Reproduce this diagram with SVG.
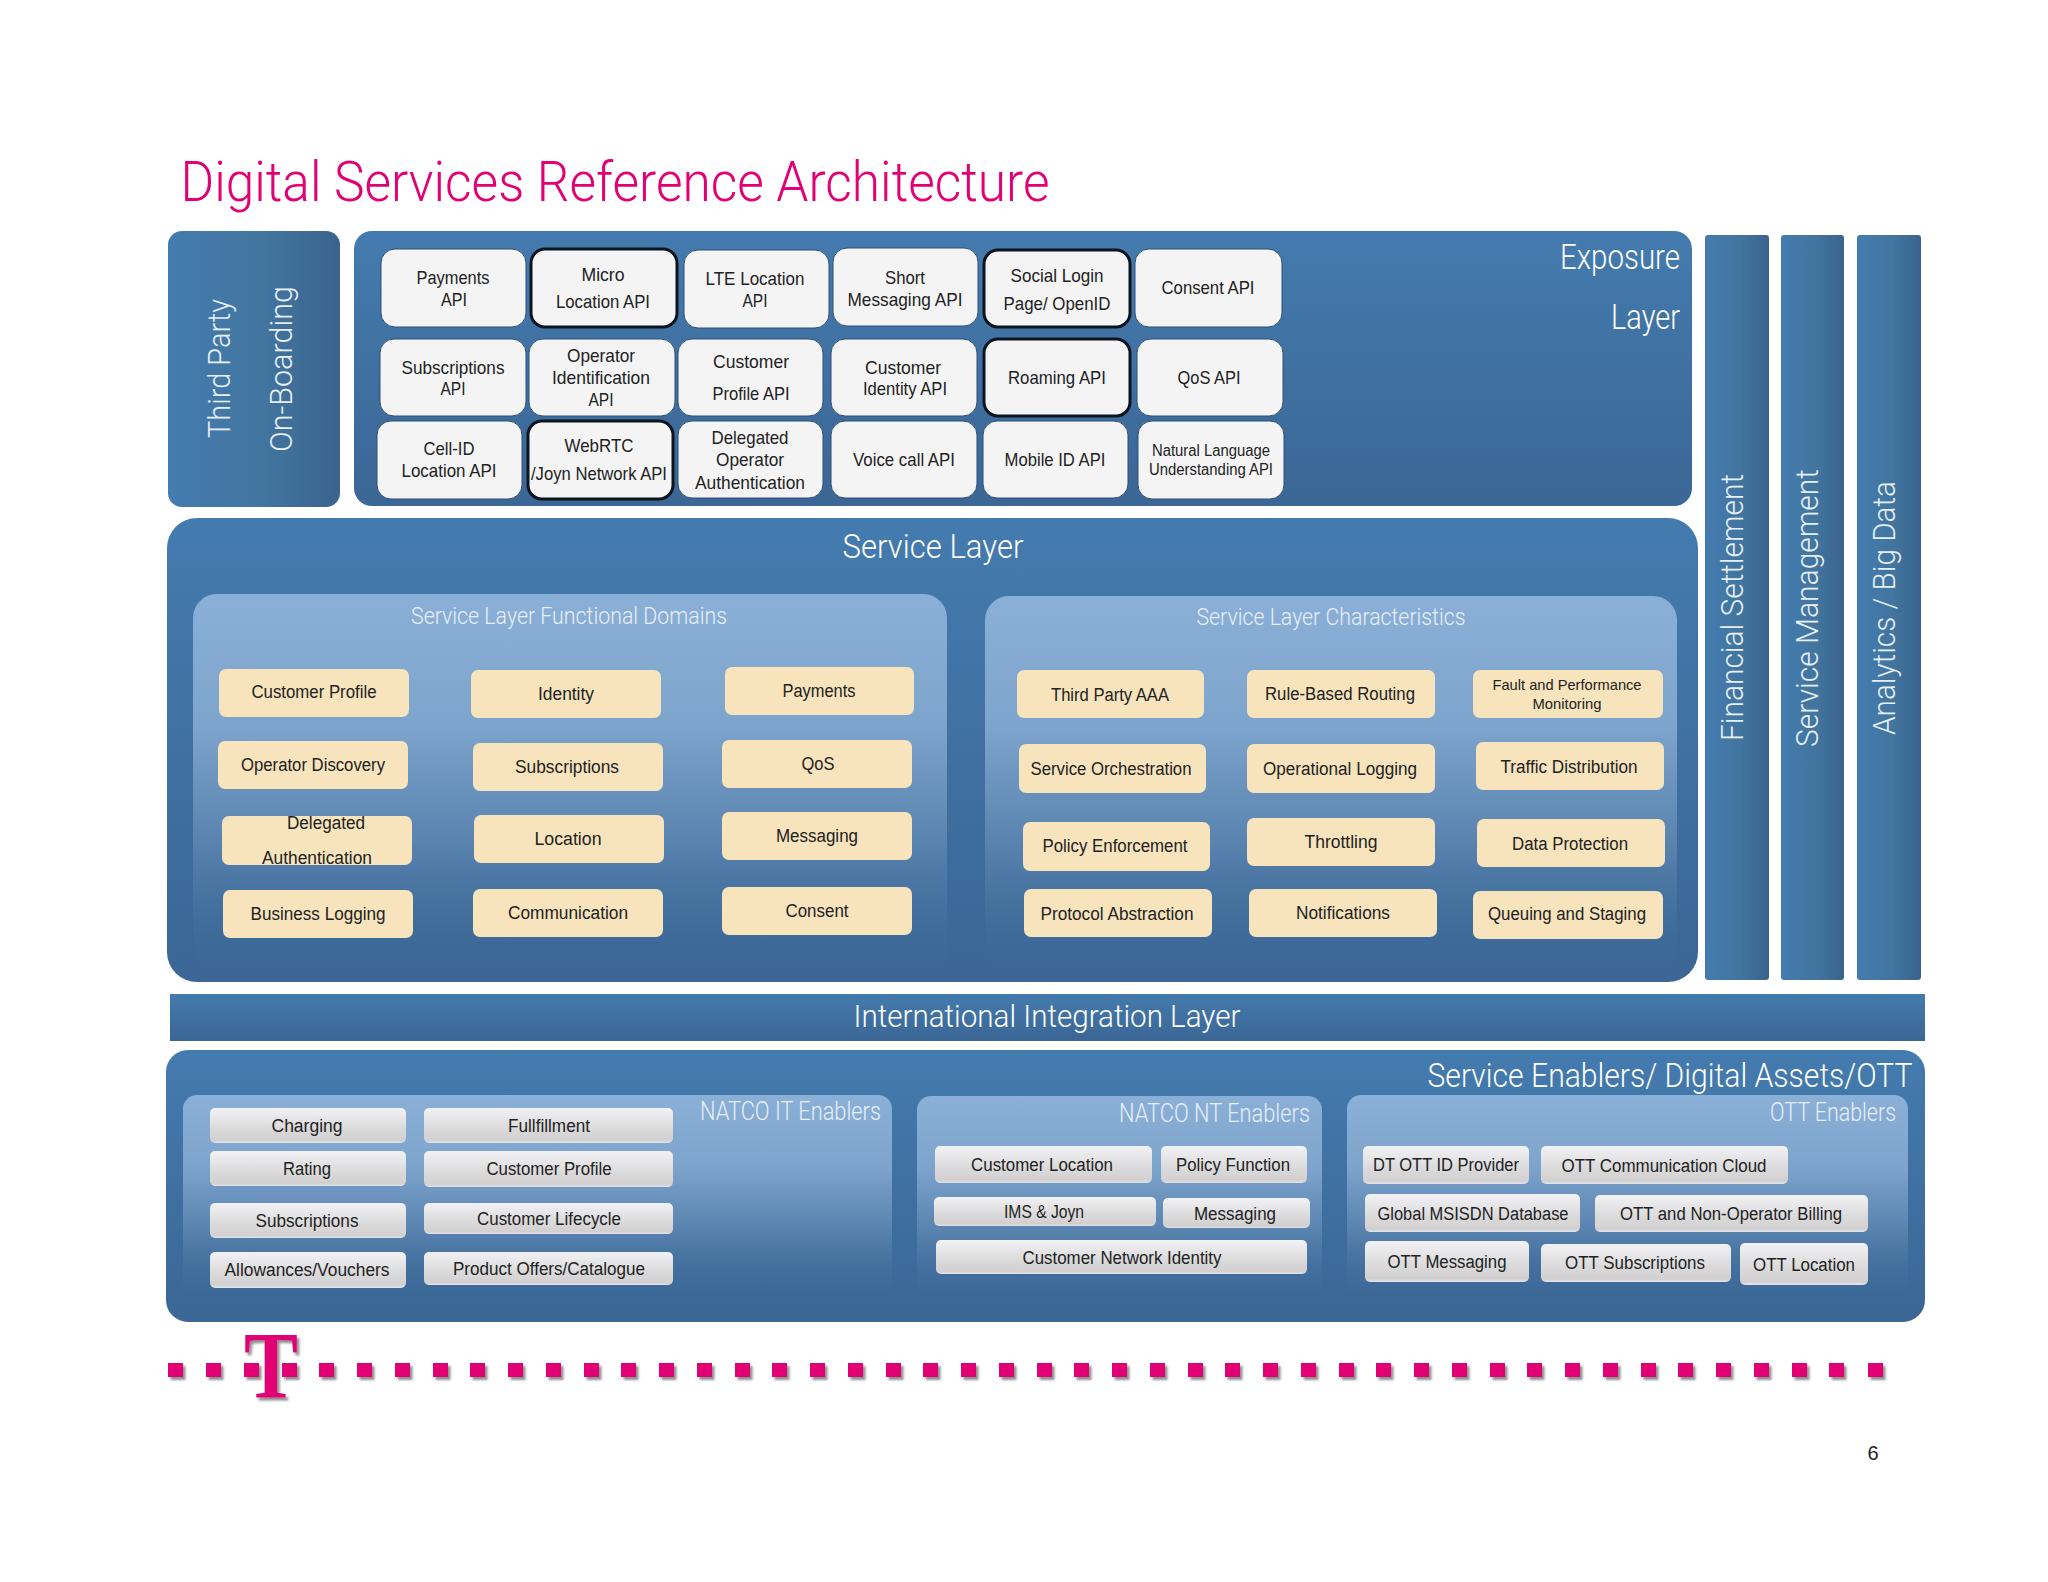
<svg xmlns="http://www.w3.org/2000/svg" width="2048" height="1582" viewBox="0 0 2048 1582">
<defs>
<linearGradient id="pv" x1="0" y1="0" x2="0" y2="1"><stop offset="0" stop-color="#447bae"/><stop offset="1" stop-color="#3b6695"/></linearGradient>
<linearGradient id="ph" x1="0" y1="0" x2="1" y2="0"><stop offset="0" stop-color="#447cb0"/><stop offset="0.55" stop-color="#42759f"/><stop offset="1" stop-color="#3a638f"/></linearGradient>
<linearGradient id="sub" x1="0" y1="0" x2="0" y2="1"><stop offset="0" stop-color="#8bb0d7"/><stop offset="0.35" stop-color="#7da4cc"/><stop offset="0.65" stop-color="#5f88b3" stop-opacity="0.85"/><stop offset="1" stop-color="#3f6b9a" stop-opacity="0"/></linearGradient>
<linearGradient id="gry" x1="0" y1="0" x2="0" y2="1"><stop offset="0" stop-color="#f2f2f5"/><stop offset="0.55" stop-color="#dcdcdd"/><stop offset="0.92" stop-color="#d2cfcf"/><stop offset="1" stop-color="#dfe4ec"/></linearGradient>
<filter id="ds" x="-30%" y="-30%" width="180%" height="180%"><feDropShadow dx="2.5" dy="3" stdDeviation="1.2" flood-color="#444" flood-opacity="0.6"/></filter>
</defs>
<style>
text{font-family:"Liberation Sans",Arial,sans-serif;text-anchor:middle;fill:#222}
.api{fill:#f4f4f5;stroke:#2f4f74;stroke-width:1}
.apib{fill:#f4f4f5;stroke:#0c1420;stroke-width:3}
.tan{fill:#f7e4bd}
.gry{fill:url(#gry)}
.a{font-size:19px}.a2{font-size:16px}.t{font-size:18px}.t2{font-size:15px}
.w,.w2,#title{font-family:Roboto,"Liberation Sans",sans-serif;font-weight:300}
.w{fill:#fff}.w2{fill:#e6eef6}
.dot{fill:#e20074;filter:url(#ds)}
</style>
<rect width="2048" height="1582" fill="#fff"/>
<text id="title" x="615" y="201" font-size="56" textLength="869" lengthAdjust="spacingAndGlyphs" style="fill:#e20074">Digital Services Reference Architecture</text>

<g id="third-party"><rect x="168" y="231" width="172" height="276" rx="14" fill="url(#ph)"/>
<text class="w2" transform="translate(230 368.5) rotate(-90)" font-size="32" textLength="139" lengthAdjust="spacingAndGlyphs">Third Party</text>
<text class="w2" transform="translate(292 369) rotate(-90)" font-size="32" textLength="166" lengthAdjust="spacingAndGlyphs">On-Boarding</text></g>

<g id="exposure-layer"><rect x="354" y="231" width="1338" height="275" rx="18" fill="url(#pv)"/>
<text class="w" x="1620" y="269" font-size="35" textLength="120" lengthAdjust="spacingAndGlyphs">Exposure</text>
<text class="w" x="1645.5" y="329" font-size="35" textLength="69" lengthAdjust="spacingAndGlyphs">Layer</text></g>

<g id="service-layer"><rect x="167" y="518" width="1531" height="464" rx="30" fill="url(#pv)"/>
<text class="w" x="933" y="558" font-size="34" textLength="181" lengthAdjust="spacingAndGlyphs">Service  Layer</text></g>

<g id="financial-settlement"><rect x="1705" y="235" width="64" height="745" rx="3" fill="url(#ph)"/><text class="w2" transform="translate(1743 607.5) rotate(-90)" font-size="32" textLength="267" lengthAdjust="spacingAndGlyphs">Financial Settlement</text></g>
<g id="service-management"><rect x="1781" y="235" width="63" height="745" rx="3" fill="url(#ph)"/><text class="w2" transform="translate(1818 608) rotate(-90)" font-size="32" textLength="278" lengthAdjust="spacingAndGlyphs">Service Management</text></g>
<g id="analytics"><rect x="1857" y="235" width="64" height="745" rx="3" fill="url(#ph)"/><text class="w2" transform="translate(1895 608) rotate(-90)" font-size="32" textLength="254" lengthAdjust="spacingAndGlyphs">Analytics / Big Data</text></g>

<g id="integration-layer"><rect x="170" y="994" width="1755" height="47" fill="url(#pv)"/><text class="w" x="1047" y="1027" font-size="32" textLength="387" lengthAdjust="spacingAndGlyphs">International Integration Layer</text></g>

<g id="enablers"><rect x="166" y="1050" width="1759" height="272" rx="22" fill="url(#pv)"/><text class="w" x="1670" y="1087" font-size="34" textLength="485" lengthAdjust="spacingAndGlyphs">Service Enablers/ Digital Assets/OTT</text></g>

<g id="api-nodes">
<g id="api-payments"><rect class="api" x="381" y="249" width="145" height="78" rx="14"/><text class="a" x="453" y="283.5" textLength="73" lengthAdjust="spacingAndGlyphs">Payments</text><text class="a" x="454" y="305.5" textLength="26" lengthAdjust="spacingAndGlyphs">API</text></g>
<g id="api-micro"><rect class="apib" x="531" y="249" width="146" height="78" rx="14"/><text class="a" x="603" y="280.5" textLength="43" lengthAdjust="spacingAndGlyphs">Micro</text><text class="a" x="603" y="308" textLength="94" lengthAdjust="spacingAndGlyphs">Location API</text></g>
<g id="api-lte"><rect class="api" x="684" y="250" width="145" height="78" rx="14"/><text class="a" x="755" y="284.5" textLength="99" lengthAdjust="spacingAndGlyphs">LTE Location</text><text class="a" x="755" y="306.5" textLength="25" lengthAdjust="spacingAndGlyphs">API</text></g>
<g id="api-short"><rect class="api" x="833" y="248" width="145" height="78" rx="14"/><text class="a" x="905" y="283.5" textLength="40" lengthAdjust="spacingAndGlyphs">Short</text><text class="a" x="905" y="305.5" textLength="115" lengthAdjust="spacingAndGlyphs">Messaging  API</text></g>
<g id="api-social"><rect class="apib" x="984" y="250" width="146" height="77" rx="14"/><text class="a" x="1057" y="282" textLength="93" lengthAdjust="spacingAndGlyphs">Social Login</text><text class="a" x="1057" y="309.5" textLength="107" lengthAdjust="spacingAndGlyphs">Page/ OpenID</text></g>
<g id="api-consent"><rect class="api" x="1135" y="249" width="147" height="78" rx="14"/><text class="a" x="1208" y="293.5" textLength="93" lengthAdjust="spacingAndGlyphs">Consent API</text></g>
<g id="api-subscriptions"><rect class="api" x="380" y="339" width="146" height="77" rx="14"/><text class="a" x="453" y="373.5" textLength="103" lengthAdjust="spacingAndGlyphs">Subscriptions</text><text class="a" x="453" y="394.5" textLength="25" lengthAdjust="spacingAndGlyphs">API</text></g>
<g id="api-operator"><rect class="api" x="529" y="339" width="146" height="77" rx="14"/><text class="a" x="601" y="361.5" textLength="68" lengthAdjust="spacingAndGlyphs">Operator</text><text class="a" x="601" y="384" textLength="98" lengthAdjust="spacingAndGlyphs">Identification</text><text class="a" x="601" y="406" textLength="25" lengthAdjust="spacingAndGlyphs">API</text></g>
<g id="api-customer-profile"><rect class="api" x="678" y="339" width="145" height="77" rx="14"/><text class="a" x="751" y="368" textLength="76" lengthAdjust="spacingAndGlyphs">Customer</text><text class="a" x="751" y="399.5" textLength="77" lengthAdjust="spacingAndGlyphs">Profile API</text></g>
<g id="api-customer-identity"><rect class="api" x="831" y="339" width="146" height="77" rx="14"/><text class="a" x="903" y="373.5" textLength="76" lengthAdjust="spacingAndGlyphs">Customer</text><text class="a" x="905" y="394.5" textLength="84" lengthAdjust="spacingAndGlyphs">Identity API</text></g>
<g id="api-roaming"><rect class="apib" x="984" y="339" width="146" height="77" rx="14"/><text class="a" x="1057" y="384" textLength="98" lengthAdjust="spacingAndGlyphs">Roaming API</text></g>
<g id="api-qos"><rect class="api" x="1137" y="339" width="146" height="77" rx="14"/><text class="a" x="1209" y="384" textLength="63" lengthAdjust="spacingAndGlyphs">QoS API</text></g>
<g id="api-cell"><rect class="api" x="377" y="421" width="145" height="78" rx="14"/><text class="a" x="449" y="455" textLength="51" lengthAdjust="spacingAndGlyphs">Cell-ID</text><text class="a" x="449" y="477" textLength="95" lengthAdjust="spacingAndGlyphs">Location API</text></g>
<g id="api-webrtc"><rect class="apib" x="528" y="421" width="145" height="78" rx="14"/><text class="a" x="599" y="452" textLength="69" lengthAdjust="spacingAndGlyphs">WebRTC</text><text class="a" x="599" y="480" textLength="136" lengthAdjust="spacingAndGlyphs">/Joyn Network API</text></g>
<g id="api-delegated"><rect class="api" x="678" y="421" width="145" height="77" rx="14"/><text class="a" x="750" y="444" textLength="77" lengthAdjust="spacingAndGlyphs">Delegated</text><text class="a" x="750" y="466" textLength="68" lengthAdjust="spacingAndGlyphs">Operator</text><text class="a" x="750" y="488.5" textLength="110" lengthAdjust="spacingAndGlyphs">Authentication</text></g>
<g id="api-voice"><rect class="api" x="831" y="421" width="146" height="77" rx="14"/><text class="a" x="904" y="466" textLength="102" lengthAdjust="spacingAndGlyphs">Voice call API</text></g>
<g id="api-mobile"><rect class="api" x="983" y="421" width="145" height="77" rx="14"/><text class="a" x="1055" y="466" textLength="101" lengthAdjust="spacingAndGlyphs">Mobile ID API</text></g>
<g id="api-natural"><rect class="api" x="1138" y="421" width="146" height="78" rx="14"/><text class="a2" x="1211" y="456" textLength="118" lengthAdjust="spacingAndGlyphs">Natural Language</text><text class="a2" x="1211" y="475" textLength="124" lengthAdjust="spacingAndGlyphs">Understanding API</text></g>
</g>

<g id="functional-domains"><rect x="193" y="594" width="754" height="380" rx="24" fill="url(#sub)"/><text class="w2" x="569" y="624" font-size="24" textLength="316" lengthAdjust="spacingAndGlyphs">Service Layer Functional Domains</text>
<g id="d-customer-profile"><rect class="tan" x="219" y="669" width="190" height="48" rx="7"/><text class="t" x="314" y="698" textLength="125" lengthAdjust="spacingAndGlyphs">Customer Profile</text></g>
<g id="d-operator-discovery"><rect class="tan" x="218" y="741" width="190" height="48" rx="7"/><text class="t" x="313" y="771" textLength="144" lengthAdjust="spacingAndGlyphs">Operator Discovery</text></g>
<g id="d-delegated"><rect class="tan" x="222" y="816" width="190" height="49" rx="7"/><text class="t" x="326" y="829" textLength="78" lengthAdjust="spacingAndGlyphs">Delegated</text><text class="t" x="317" y="864" textLength="110" lengthAdjust="spacingAndGlyphs">Authentication</text></g>
<g id="d-business-logging"><rect class="tan" x="223" y="890" width="190" height="48" rx="7"/><text class="t" x="318" y="920" textLength="135" lengthAdjust="spacingAndGlyphs">Business Logging</text></g>
<g id="d-identity"><rect class="tan" x="471" y="670" width="190" height="48" rx="7"/><text class="t" x="566" y="700" textLength="56" lengthAdjust="spacingAndGlyphs">Identity</text></g>
<g id="d-subscriptions"><rect class="tan" x="473" y="743" width="190" height="48" rx="7"/><text class="t" x="567" y="773" textLength="104" lengthAdjust="spacingAndGlyphs">Subscriptions</text></g>
<g id="d-location"><rect class="tan" x="474" y="815" width="190" height="48" rx="7"/><text class="t" x="568" y="845" textLength="67" lengthAdjust="spacingAndGlyphs">Location</text></g>
<g id="d-communication"><rect class="tan" x="473" y="889" width="190" height="48" rx="7"/><text class="t" x="568" y="919" textLength="120" lengthAdjust="spacingAndGlyphs">Communication</text></g>
<g id="d-payments"><rect class="tan" x="725" y="667" width="189" height="48" rx="7"/><text class="t" x="819" y="697" textLength="73" lengthAdjust="spacingAndGlyphs">Payments</text></g>
<g id="d-qos"><rect class="tan" x="722" y="740" width="190" height="48" rx="7"/><text class="t" x="818" y="770" textLength="33" lengthAdjust="spacingAndGlyphs">QoS</text></g>
<g id="d-messaging"><rect class="tan" x="722" y="812" width="190" height="48" rx="7"/><text class="t" x="817" y="842" textLength="82" lengthAdjust="spacingAndGlyphs">Messaging</text></g>
<g id="d-consent"><rect class="tan" x="722" y="887" width="190" height="48" rx="7"/><text class="t" x="817" y="917" textLength="63" lengthAdjust="spacingAndGlyphs">Consent</text></g>
</g>

<g id="characteristics"><rect x="985" y="596" width="692" height="378" rx="24" fill="url(#sub)"/><text class="w2" x="1331" y="625" font-size="24" textLength="269" lengthAdjust="spacingAndGlyphs">Service Layer Characteristics</text>
<g id="c-aaa"><rect class="tan" x="1017" y="670" width="187" height="48" rx="7"/><text class="t" x="1110" y="701" textLength="118" lengthAdjust="spacingAndGlyphs">Third Party AAA</text></g>
<g id="c-orchestration"><rect class="tan" x="1019" y="744" width="187" height="49" rx="7"/><text class="t" x="1111" y="775" textLength="161" lengthAdjust="spacingAndGlyphs">Service Orchestration</text></g>
<g id="c-policy"><rect class="tan" x="1023" y="822" width="187" height="49" rx="7"/><text class="t" x="1115" y="852" textLength="145" lengthAdjust="spacingAndGlyphs">Policy Enforcement</text></g>
<g id="c-protocol"><rect class="tan" x="1024" y="889" width="188" height="48" rx="7"/><text class="t" x="1117" y="920" textLength="153" lengthAdjust="spacingAndGlyphs">Protocol Abstraction</text></g>
<g id="c-rule"><rect class="tan" x="1247" y="670" width="188" height="48" rx="7"/><text class="t" x="1340" y="700" textLength="150" lengthAdjust="spacingAndGlyphs">Rule-Based Routing</text></g>
<g id="c-logging"><rect class="tan" x="1247" y="744" width="188" height="49" rx="7"/><text class="t" x="1340" y="775" textLength="154" lengthAdjust="spacingAndGlyphs">Operational Logging</text></g>
<g id="c-throttling"><rect class="tan" x="1247" y="818" width="188" height="48" rx="7"/><text class="t" x="1341" y="848" textLength="73" lengthAdjust="spacingAndGlyphs">Throttling</text></g>
<g id="c-notifications"><rect class="tan" x="1249" y="889" width="188" height="48" rx="7"/><text class="t" x="1343" y="919" textLength="94" lengthAdjust="spacingAndGlyphs">Notifications</text></g>
<g id="c-fault"><rect class="tan" x="1473" y="670" width="190" height="48" rx="7"/><text class="t2" x="1567" y="689.5" textLength="149" lengthAdjust="spacingAndGlyphs">Fault and Performance</text><text class="t2" x="1567" y="709" textLength="69" lengthAdjust="spacingAndGlyphs">Monitoring</text></g>
<g id="c-traffic"><rect class="tan" x="1476" y="742" width="188" height="48" rx="7"/><text class="t" x="1569" y="773" textLength="137" lengthAdjust="spacingAndGlyphs">Traffic Distribution</text></g>
<g id="c-protection"><rect class="tan" x="1477" y="819" width="188" height="48" rx="7"/><text class="t" x="1570" y="850" textLength="116" lengthAdjust="spacingAndGlyphs">Data Protection</text></g>
<g id="c-queuing"><rect class="tan" x="1473" y="891" width="190" height="48" rx="7"/><text class="t" x="1567" y="920" textLength="158" lengthAdjust="spacingAndGlyphs">Queuing and Staging</text></g>
</g>

<g id="natco-it"><rect x="183" y="1095" width="709" height="205" rx="14" fill="url(#sub)"/><text class="w2" x="790.5" y="1120" font-size="25" textLength="181" lengthAdjust="spacingAndGlyphs">NATCO IT Enablers</text>
<g id="it-charging"><rect class="gry" x="210" y="1108" width="196" height="35" rx="5"/><text class="t" x="307" y="1132" textLength="71" lengthAdjust="spacingAndGlyphs">Charging</text></g>
<g id="it-rating"><rect class="gry" x="210" y="1151" width="196" height="35" rx="5"/><text class="t" x="307" y="1175" textLength="48" lengthAdjust="spacingAndGlyphs">Rating</text></g>
<g id="it-subscriptions"><rect class="gry" x="210" y="1203" width="196" height="35" rx="5"/><text class="t" x="307" y="1227" textLength="103" lengthAdjust="spacingAndGlyphs">Subscriptions</text></g>
<g id="it-allowances"><rect class="gry" x="210" y="1252" width="196" height="36" rx="5"/><text class="t" x="307" y="1276" textLength="165" lengthAdjust="spacingAndGlyphs">Allowances/Vouchers</text></g>
<g id="it-fulfillment"><rect class="gry" x="424" y="1108" width="249" height="35" rx="5"/><text class="t" x="549" y="1132" textLength="82" lengthAdjust="spacingAndGlyphs">Fullfillment</text></g>
<g id="it-profile"><rect class="gry" x="424" y="1151" width="249" height="36" rx="5"/><text class="t" x="549" y="1175" textLength="125" lengthAdjust="spacingAndGlyphs">Customer Profile</text></g>
<g id="it-lifecycle"><rect class="gry" x="424" y="1203" width="249" height="31" rx="5"/><text class="t" x="549" y="1225" textLength="144" lengthAdjust="spacingAndGlyphs">Customer Lifecycle</text></g>
<g id="it-offers"><rect class="gry" x="424" y="1252" width="249" height="33" rx="5"/><text class="t" x="549" y="1275" textLength="192" lengthAdjust="spacingAndGlyphs">Product Offers/Catalogue</text></g>
</g>

<g id="natco-nt"><rect x="917" y="1096" width="405" height="205" rx="14" fill="url(#sub)"/><text class="w2" x="1214.5" y="1122" font-size="25" textLength="191" lengthAdjust="spacingAndGlyphs">NATCO NT Enablers</text>
<g id="nt-location"><rect class="gry" x="935" y="1146" width="217" height="37" rx="5"/><text class="t" x="1042" y="1171" textLength="142" lengthAdjust="spacingAndGlyphs">Customer Location</text></g>
<g id="nt-policy"><rect class="gry" x="1161" y="1146" width="146" height="37" rx="5"/><text class="t" x="1233" y="1171" textLength="114" lengthAdjust="spacingAndGlyphs">Policy Function</text></g>
<g id="nt-ims"><rect class="gry" x="934" y="1197" width="222" height="29" rx="5"/><text class="t" x="1044" y="1218" textLength="80" lengthAdjust="spacingAndGlyphs">IMS &amp; Joyn</text></g>
<g id="nt-messaging"><rect class="gry" x="1163" y="1198" width="147" height="30" rx="5"/><text class="t" x="1235" y="1220" textLength="82" lengthAdjust="spacingAndGlyphs">Messaging</text></g>
<g id="nt-network"><rect class="gry" x="936" y="1240" width="371" height="34" rx="5"/><text class="t" x="1122" y="1264" textLength="199" lengthAdjust="spacingAndGlyphs">Customer Network Identity</text></g>
</g>

<g id="ott"><rect x="1347" y="1095" width="561" height="205" rx="14" fill="url(#sub)"/><text class="w2" x="1833" y="1121" font-size="25" textLength="126" lengthAdjust="spacingAndGlyphs">OTT Enablers</text>
<g id="ott-id"><rect class="gry" x="1363" y="1146" width="166" height="38" rx="5"/><text class="t" x="1446" y="1171" textLength="146" lengthAdjust="spacingAndGlyphs">DT OTT ID Provider</text></g>
<g id="ott-cloud"><rect class="gry" x="1541" y="1146" width="247" height="38" rx="5"/><text class="t" x="1664" y="1172" textLength="205" lengthAdjust="spacingAndGlyphs">OTT Communication Cloud</text></g>
<g id="ott-msisdn"><rect class="gry" x="1365" y="1194" width="215" height="38" rx="5"/><text class="t" x="1473" y="1220" textLength="191" lengthAdjust="spacingAndGlyphs">Global MSISDN Database</text></g>
<g id="ott-billing"><rect class="gry" x="1595" y="1195" width="273" height="37" rx="5"/><text class="t" x="1731" y="1220" textLength="222" lengthAdjust="spacingAndGlyphs">OTT and Non-Operator Billing</text></g>
<g id="ott-messaging"><rect class="gry" x="1365" y="1241" width="164" height="41" rx="5"/><text class="t" x="1447" y="1268" textLength="119" lengthAdjust="spacingAndGlyphs">OTT Messaging</text></g>
<g id="ott-subs"><rect class="gry" x="1541" y="1244" width="190" height="38" rx="5"/><text class="t" x="1635" y="1269" textLength="140" lengthAdjust="spacingAndGlyphs">OTT Subscriptions</text></g>
<g id="ott-location"><rect class="gry" x="1740" y="1243" width="128" height="42" rx="5"/><text class="t" x="1804" y="1271" textLength="102" lengthAdjust="spacingAndGlyphs">OTT Location</text></g>
</g>

<g id="dots">
<rect class="dot" x="168" y="1363" width="15" height="14"/><rect class="dot" x="206" y="1363" width="15" height="14"/><rect class="dot" x="244" y="1363" width="15" height="14"/><rect class="dot" x="282" y="1363" width="15" height="14"/><rect class="dot" x="319" y="1363" width="15" height="14"/><rect class="dot" x="357" y="1363" width="15" height="14"/><rect class="dot" x="395" y="1363" width="15" height="14"/><rect class="dot" x="433" y="1363" width="15" height="14"/><rect class="dot" x="470" y="1363" width="15" height="14"/><rect class="dot" x="508" y="1363" width="15" height="14"/><rect class="dot" x="546" y="1363" width="15" height="14"/><rect class="dot" x="584" y="1363" width="15" height="14"/><rect class="dot" x="621" y="1363" width="15" height="14"/><rect class="dot" x="659" y="1363" width="15" height="14"/><rect class="dot" x="697" y="1363" width="15" height="14"/><rect class="dot" x="735" y="1363" width="15" height="14"/><rect class="dot" x="772" y="1363" width="15" height="14"/><rect class="dot" x="810" y="1363" width="15" height="14"/><rect class="dot" x="848" y="1363" width="15" height="14"/><rect class="dot" x="886" y="1363" width="15" height="14"/><rect class="dot" x="923" y="1363" width="15" height="14"/><rect class="dot" x="961" y="1363" width="15" height="14"/><rect class="dot" x="999" y="1363" width="15" height="14"/><rect class="dot" x="1037" y="1363" width="15" height="14"/><rect class="dot" x="1074" y="1363" width="15" height="14"/><rect class="dot" x="1112" y="1363" width="15" height="14"/><rect class="dot" x="1150" y="1363" width="15" height="14"/><rect class="dot" x="1188" y="1363" width="15" height="14"/><rect class="dot" x="1225" y="1363" width="15" height="14"/><rect class="dot" x="1263" y="1363" width="15" height="14"/><rect class="dot" x="1301" y="1363" width="15" height="14"/><rect class="dot" x="1339" y="1363" width="15" height="14"/><rect class="dot" x="1376" y="1363" width="15" height="14"/><rect class="dot" x="1414" y="1363" width="15" height="14"/><rect class="dot" x="1452" y="1363" width="15" height="14"/><rect class="dot" x="1490" y="1363" width="15" height="14"/><rect class="dot" x="1527" y="1363" width="15" height="14"/><rect class="dot" x="1565" y="1363" width="15" height="14"/><rect class="dot" x="1603" y="1363" width="15" height="14"/><rect class="dot" x="1641" y="1363" width="15" height="14"/><rect class="dot" x="1678" y="1363" width="15" height="14"/><rect class="dot" x="1716" y="1363" width="15" height="14"/><rect class="dot" x="1754" y="1363" width="15" height="14"/><rect class="dot" x="1792" y="1363" width="15" height="14"/><rect class="dot" x="1829" y="1363" width="15" height="14"/><rect class="dot" x="1868" y="1363" width="15" height="14"/>
</g>
<text id="logo-t" x="271" y="1398" font-size="96" font-weight="700" textLength="54" lengthAdjust="spacingAndGlyphs" style="font-family:'Liberation Serif',serif;fill:#e20074;filter:url(#ds)">T</text>
<text id="page" x="1873" y="1460" font-size="20">6</text>
</svg>
